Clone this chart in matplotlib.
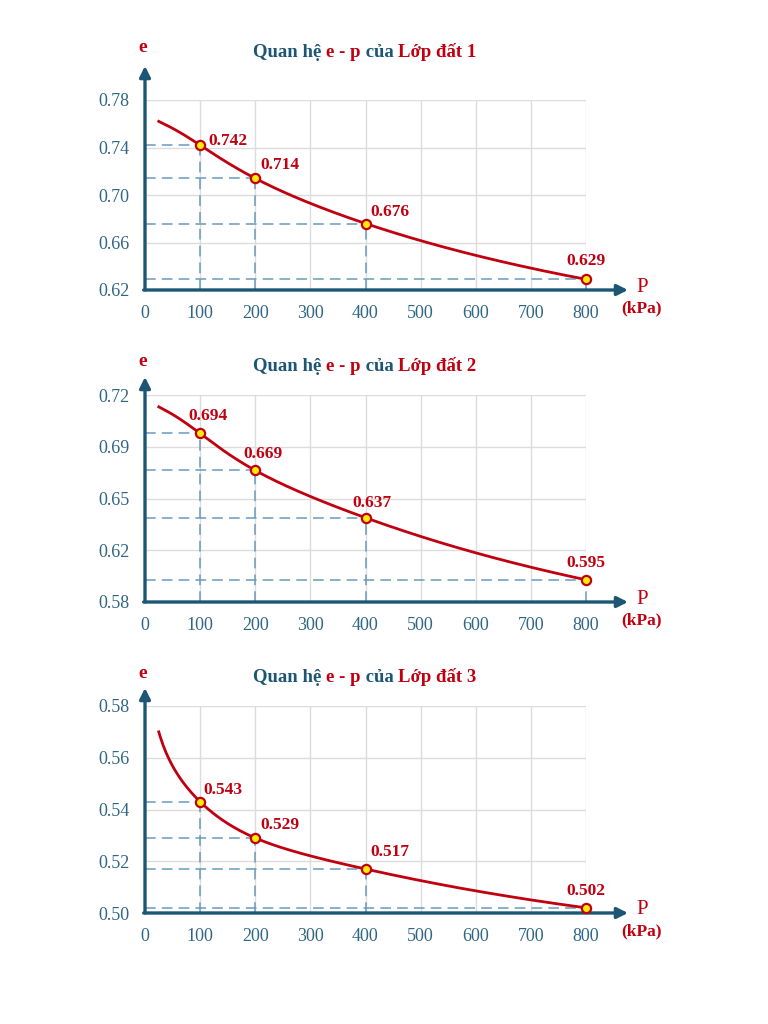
import numpy as np
import matplotlib
matplotlib.use("Agg")
import matplotlib.pyplot as plt

# ---------------- data ----------------
pressure = [100, 200, 400, 800]
layer_names = ["Lớp đất 1", "Lớp đất 2", "Lớp đất 3"]
e_layer1 = [0.742, 0.714, 0.676, 0.629]
e_layer2 = [0.694, 0.669, 0.637, 0.595]
e_layer3 = [0.543, 0.529, 0.517, 0.502]
curve_start_p = 25
curve_start_e = [0.762, 0.712, 0.570]
x_ticks = [0, 100, 200, 300, 400, 500, 600, 700, 800]
y_ranges = [(0.62, 0.78), (0.58, 0.72), (0.50, 0.58)]
y_tick_labels = [
    ["0.62", "0.66", "0.70", "0.74", "0.78"],
    ["0.58", "0.62", "0.65", "0.69", "0.72"],
    ["0.50", "0.52", "0.54", "0.56", "0.58"],
]
series = [e_layer1, e_layer2, e_layer3]

# ---------------- style ----------------
plt.rcParams['font.family'] = ['Liberation Serif', 'DejaVu Serif']
TEAL = "#1d5675"
TICK = "#2f6683"
RED = "#c00010"
DASH = "#6a9aba"
GRID = "#dcdcdc"

W, H = 768, 1024
rects_px = [(145, 100, 586, 290), (145, 395, 586, 602), (145, 706, 586, 913)]
yarrow_tip_px = [66, 377, 688]
title_y_px = [52, 366, 677]
e_label_y_px = [47, 362, 674]

label_offsets = [
    [("left", 8, 4), ("left", 5, 13), ("left", 5, 12), ("center", 0, 18)],
    [("left", -12, 17), ("left", -12, 16), ("left", -13, 15), ("center", 0, 17)],
    [("left", 3, 12), ("left", 5, 13), ("left", 5, 17), ("center", 0, 17)],
]


def natural_spline(x, y, xs):
    x = np.asarray(x, float)
    y = np.asarray(y, float)
    n = len(x)
    h = np.diff(x)
    A = np.zeros((n, n))
    r = np.zeros(n)
    A[0, 0] = A[-1, -1] = 1.0
    for i in range(1, n - 1):
        A[i, i - 1] = h[i - 1]
        A[i, i] = 2 * (h[i - 1] + h[i])
        A[i, i + 1] = h[i]
        r[i] = 6 * ((y[i + 1] - y[i]) / h[i] - (y[i] - y[i - 1]) / h[i - 1])
    M = np.linalg.solve(A, r)
    i = np.clip(np.searchsorted(x, xs) - 1, 0, n - 2)
    hi = h[i]
    a = x[i + 1] - xs
    b = xs - x[i]
    return (M[i] * a ** 3 / (6 * hi) + M[i + 1] * b ** 3 / (6 * hi)
            + (y[i] / hi - M[i] * hi / 6) * a + (y[i + 1] / hi - M[i + 1] * hi / 6) * b)


fig = plt.figure(figsize=(W / 100, H / 100), dpi=100)
renderer = fig.canvas.get_renderer()

for k in range(3):
    l, t, r_, b = rects_px[k]
    ax = fig.add_axes([l / W, 1 - b / H, (r_ - l) / W, (b - t) / H])
    ylo, yhi = y_ranges[k]
    ax.set_xlim(0, 800)
    ax.set_ylim(ylo, yhi)
    yt = np.linspace(ylo, yhi, len(y_tick_labels[k]))
    ax.set_xticks(x_ticks)
    ax.set_yticks(yt)
    ax.set_yticklabels(y_tick_labels[k])
    ax.tick_params(length=0, labelsize=13, labelcolor=TICK)
    ax.tick_params(axis='y', pad=11)
    ax.tick_params(axis='x', pad=11)
    for s in ax.spines.values():
        s.set_visible(False)
    ax.grid(True, color=GRID, lw=1.0, zorder=0)
    ax.set_axisbelow(True)

    e = series[k]
    for p, v in zip(pressure, e):
        ax.plot([0, p], [v, v], ls=(0, (7, 4)), color=DASH, lw=1.1, zorder=2, clip_on=False)
        ax.plot([p, p], [ylo, v], ls=(0, (7, 4)), color=DASH, lw=1.1, zorder=2, clip_on=False)

    px = np.array([curve_start_p] + pressure, float)
    ev = np.array([curve_start_e[k]] + e, float)
    ps = np.linspace(curve_start_p, 800, 300)
    es = natural_spline(np.log(px), ev, np.log(ps))
    ax.plot(ps, es, color=RED, lw=2.0, zorder=3, clip_on=False)
    ax.scatter(pressure, e, s=44, facecolor="#ffee00", edgecolor=RED, linewidth=1.6,
               zorder=5, clip_on=False)

    for (p, v), (ha, dx, dy) in zip(zip(pressure, e), label_offsets[k]):
        ax.annotate(f"{v:.3f}", xy=(p, v), xytext=(dx, dy), textcoords="offset pixels",
                    ha=ha, va="center", color=RED, fontsize=12.5, fontweight="bold", zorder=6)

    ytop = (b - yarrow_tip_px[k]) / (b - t)
    ax.annotate("", xy=(0, ytop), xytext=(0, 0), xycoords="axes fraction",
                arrowprops=dict(arrowstyle="-|>", color=TEAL, lw=2.4, mutation_scale=16,
                                shrinkA=0, shrinkB=0), annotation_clip=False)
    xtip = (628 - l) / (r_ - l)
    ax.annotate("", xy=(xtip, 0), xytext=(-0.003, 0), xycoords="axes fraction",
                arrowprops=dict(arrowstyle="-|>", color=TEAL, lw=2.4, mutation_scale=16,
                                shrinkA=0, shrinkB=0), annotation_clip=False)

    fig.text(143 / W, 1 - e_label_y_px[k] / H, "e", color=RED, fontsize=14,
             fontweight="bold", ha="center", va="center")
    fig.text(642 / W, 1 - (b - 3) / H, "P", color=RED, fontsize=15, ha="center", va="center")
    fig.text(642 / W, 1 - (b + 18) / H, "(kPa)", color=RED, fontsize=12.5,
             fontweight="bold", ha="center", va="center")

    # title in two colours, pieces placed side by side on one baseline
    parts = [("Quan hệ ", TEAL), ("e - p", RED), (" của ", TEAL), (layer_names[k], RED)]
    x = 253 / W
    ybase = 1 - (title_y_px[k] + 5) / H
    for txt, col in parts:
        tt = fig.text(x, ybase, txt, color=col, fontsize=13.5, fontweight="bold",
                      ha="left", va="baseline")
        x += tt.get_window_extent(renderer).width / W

fig.savefig("out.png", dpi=100)
